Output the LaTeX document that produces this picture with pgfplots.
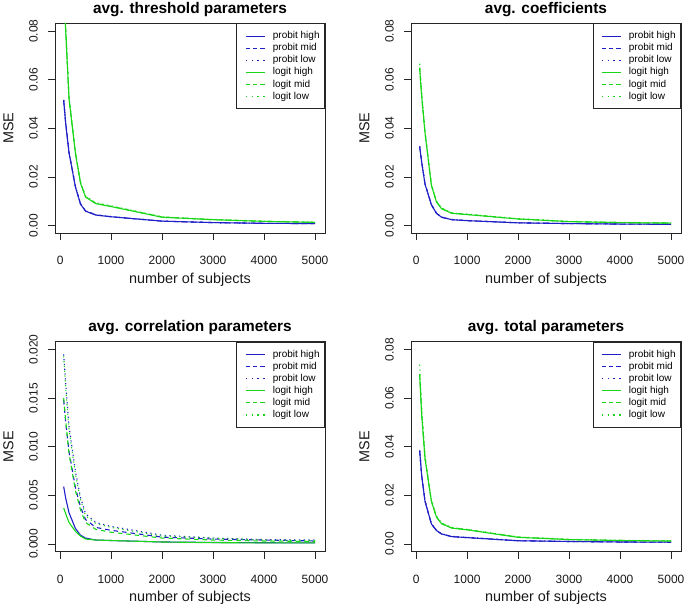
\documentclass[border=0pt]{standalone}
\usepackage{pgfplots}
\pgfplotsset{compat=1.18}
\usepackage{pgfplotstable}
\usepackage{fontspec}
\setmainfont{Liberation Sans}
\definecolor{pblue}{rgb}{0.12,0.12,0.78}
\definecolor{lgreen}{rgb}{0.10,0.84,0.10}

\pgfplotstableread{
x    ph     pm     pl     lh     lm     ll
70   0.0515 0.0516 0.0517 0.0950 0.0955 0.0965
110  0.0420 0.0421 0.0422 0.0800 0.0805 0.0815
175  0.0300 0.0301 0.0302 0.0520 0.0524 0.0532
300  0.0159 0.0160 0.0161 0.0298 0.0300 0.0305
400  0.0088 0.0089 0.0090 0.0174 0.0176 0.0180
500  0.0059 0.0060 0.0060 0.0117 0.0118 0.0121
700  0.0043 0.0044 0.0044 0.0090 0.0091 0.0094
1000 0.0036 0.0036 0.0037 0.0078 0.0079 0.0081
2000 0.0018 0.0018 0.0018 0.0034 0.0035 0.0036
3000 0.0012 0.0012 0.0012 0.0024 0.0024 0.0025
4000 0.0009 0.0009 0.0009 0.0017 0.0017 0.0018
5000 0.0008 0.0008 0.0008 0.0013 0.0013 0.0014
}\tlthresh

\pgfplotstableread{
x    ph     pm     pl     lh     lm     ll
70   0.0324 0.0325 0.0326 0.0645 0.0650 0.0666
110  0.0260 0.0261 0.0262 0.0530 0.0534 0.0545
175  0.0170 0.0171 0.0172 0.0380 0.0383 0.0390
300  0.0085 0.0086 0.0086 0.0165 0.0166 0.0170
400  0.0050 0.0050 0.0051 0.0097 0.0098 0.0100
500  0.0034 0.0034 0.0035 0.0069 0.0070 0.0072
700  0.0024 0.0024 0.0025 0.0050 0.0051 0.0052
1000 0.0020 0.0020 0.0021 0.0045 0.0046 0.0047
2000 0.0011 0.0011 0.0011 0.0027 0.0027 0.0028
3000 0.0008 0.0008 0.0008 0.0016 0.0016 0.0017
4000 0.0006 0.0006 0.0006 0.0012 0.0012 0.0013
5000 0.0005 0.0005 0.0005 0.0010 0.0010 0.0011
}\trcoef

\pgfplotstableread{
x    ph      pm      pl      lh      lm      ll
70   0.0059  0.0148  0.0195  0.0037  0.0150  0.0193
110  0.0047  0.0125  0.0165  0.0031  0.0127  0.0160
175  0.0032  0.0095  0.0121  0.0022  0.0093  0.0118
300  0.0016  0.0058  0.0075  0.0013  0.0055  0.0072
400  0.0009  0.0038  0.0048  0.0008  0.0035  0.0046
500  0.0006  0.0025  0.0031  0.0005  0.0022  0.0029
700  0.0004  0.0017  0.0022  0.0004  0.0015  0.0021
1000 0.00035 0.0014  0.0018  0.00035 0.0012  0.0017
2000 0.0002  0.0007  0.0009  0.0002  0.0006  0.0008
3000 0.00015 0.0005  0.0006  0.00013 0.0004  0.0006
4000 0.00012 0.0004  0.00045 0.0001  0.0003  0.0004
5000 0.0001  0.0003  0.0004  0.0001  0.00025 0.00035
}\blcorr

\pgfplotstableread{
x    ph     pm     pl     lh     lm     ll
70   0.0383 0.0384 0.0385 0.0690 0.0700 0.0738
110  0.0280 0.0281 0.0282 0.0530 0.0537 0.0560
175  0.0175 0.0176 0.0177 0.0350 0.0354 0.0365
300  0.0082 0.0083 0.0083 0.0175 0.0177 0.0181
400  0.0055 0.0055 0.0056 0.0110 0.0111 0.0114
500  0.0041 0.0041 0.0042 0.0083 0.0084 0.0086
700  0.0030 0.0030 0.0031 0.0065 0.0066 0.0068
1000 0.0026 0.0026 0.0027 0.0058 0.0059 0.0060
2000 0.0013 0.0013 0.0014 0.0027 0.0028 0.0029
3000 0.0010 0.0010 0.0010 0.0018 0.0018 0.0019
4000 0.0008 0.0008 0.0008 0.0014 0.0014 0.0015
5000 0.0007 0.0007 0.0007 0.0012 0.0012 0.0013
}\brtotal

% legend samples built from coloured TeX rules
\newcommand{\rl}[1]{\rule[2.05pt]{#1}{1.1pt}}
\newcommand{\solidS}[1]{\textcolor{#1}{\rl{19pt}}}
\newcommand{\dashS}[1]{\textcolor{#1}{\rl{4.5pt}\hspace{2.75pt}\rl{4.5pt}\hspace{2.75pt}\rl{4.5pt}}}
\newcommand{\dotS}[1]{\textcolor{#1}{\rl{1.2pt}\hspace{4.73pt}\rl{1.2pt}\hspace{4.73pt}\rl{1.2pt}\hspace{4.73pt}\rl{1.2pt}}}
\newcommand{\lent}[2]{\hspace{3.7pt}#1\hspace{8.3pt}#2}

\pgfplotsset{
  rpanel/.style={
    scale only axis, width=270pt, height=210pt,
    xmin=-100, xmax=5196,
    xtick={0,1000,2000,3000,4000,5000},
    tick pos=left, tick align=outside, major tick length=7pt,
    tick style={black!85, line width=0.8pt},
    axis line style={black!85, line width=0.8pt},
    /pgf/number format/assume math mode=true,
    xticklabel style={font=\fontsize{12}{14}\selectfont, text=black!90, inner sep=0pt, anchor=north, /pgf/number format/1000 sep={}},
    xticklabel shift=16pt,
    yticklabel style={font=\fontsize{12}{14}\selectfont, text=black!90, rotate=90, anchor=south, inner sep=0pt,
      /pgf/number format/fixed, /pgf/number format/fixed zerofill},
    yticklabel shift=10pt,
    scaled y ticks=false,
    xlabel={number of subjects}, ylabel={MSE},
    label style={font=\fontsize{14.4}{17}\selectfont, text=black!90},
    xlabel style={at={(axis description cs:0.5,-0.2381)}, anchor=base},
    ylabel style={at={(axis description cs:-0.1544,0.5)}, anchor=base},
    every axis title/.style={at={(axis description cs:0.5,1.0476)}, anchor=base, inner sep=0pt, font=\bfseries\fontsize{15.4}{18}\selectfont},
    legend style={at={(axis description cs:1,1)}, anchor=north east, draw=black!85, line width=0.8pt, fill=white,
      font=\fontsize{10}{12}\selectfont, inner xsep=5pt, inner ysep=6.2pt, row sep=0pt, column sep=0pt,
      nodes={inner sep=0pt, text height=8.8pt, text depth=3.3pt}},
    legend cell align=left,
    legend image code/.code={},
    every axis plot/.append style={mark=none, line width=1.1pt},
  },
}

\newcommand{\sixplots}[1]{%
  \addplot[draw=pblue, solid] table[x=x,y=ph]{#1}; \addlegendentry{\lent{\solidS{pblue}}{probit high}}
  \addplot[draw=pblue, dash pattern=on 4.5pt off 4pt] table[x=x,y=pm]{#1}; \addlegendentry{\lent{\dashS{pblue}}{probit mid}}
  \addplot[draw=pblue, dash pattern=on 1.2pt off 3.6pt] table[x=x,y=pl]{#1}; \addlegendentry{\lent{\dotS{pblue}}{probit low}}
  \addplot[draw=lgreen, solid] table[x=x,y=lh]{#1}; \addlegendentry{\lent{\solidS{lgreen}}{logit high}}
  \addplot[draw=lgreen, dash pattern=on 4.5pt off 4pt] table[x=x,y=lm]{#1}; \addlegendentry{\lent{\dashS{lgreen}}{logit mid}}
  \addplot[draw=lgreen, dash pattern=on 1.2pt off 3.6pt] table[x=x,y=ll]{#1}; \addlegendentry{\lent{\dotS{lgreen}}{logit low}}
}

\begin{document}
\begin{tikzpicture}
\useasboundingbox (0pt,0pt) rectangle (685pt,607pt);

\begin{axis}[rpanel, at={(55pt,373.7pt)}, anchor=south west,
  title={avg. threshold parameters},
  ymin=-0.0032, ymax=0.0832, ytick={0,0.02,0.04,0.06,0.08},
  yticklabel style={/pgf/number format/precision=2}]
\sixplots{\tlthresh}
\end{axis}

\begin{axis}[rpanel, at={(411pt,373.7pt)}, anchor=south west,
  title={avg. coefficients},
  ymin=-0.0032, ymax=0.0832, ytick={0,0.02,0.04,0.06,0.08},
  yticklabel style={/pgf/number format/precision=2}]
\sixplots{\trcoef}
\end{axis}

\begin{axis}[rpanel, at={(55pt,55.3pt)}, anchor=south west,
  title={avg. correlation parameters},
  ymin=-0.0008, ymax=0.0208, ytick={0,0.005,0.01,0.015,0.02},
  yticklabel style={/pgf/number format/precision=3}]
\sixplots{\blcorr}
\end{axis}

\begin{axis}[rpanel, at={(411pt,55.3pt)}, anchor=south west,
  title={avg. total parameters},
  ymin=-0.0032, ymax=0.0832, ytick={0,0.02,0.04,0.06,0.08},
  yticklabel style={/pgf/number format/precision=2}]
\sixplots{\brtotal}
\end{axis}
\end{tikzpicture}
\end{document}
